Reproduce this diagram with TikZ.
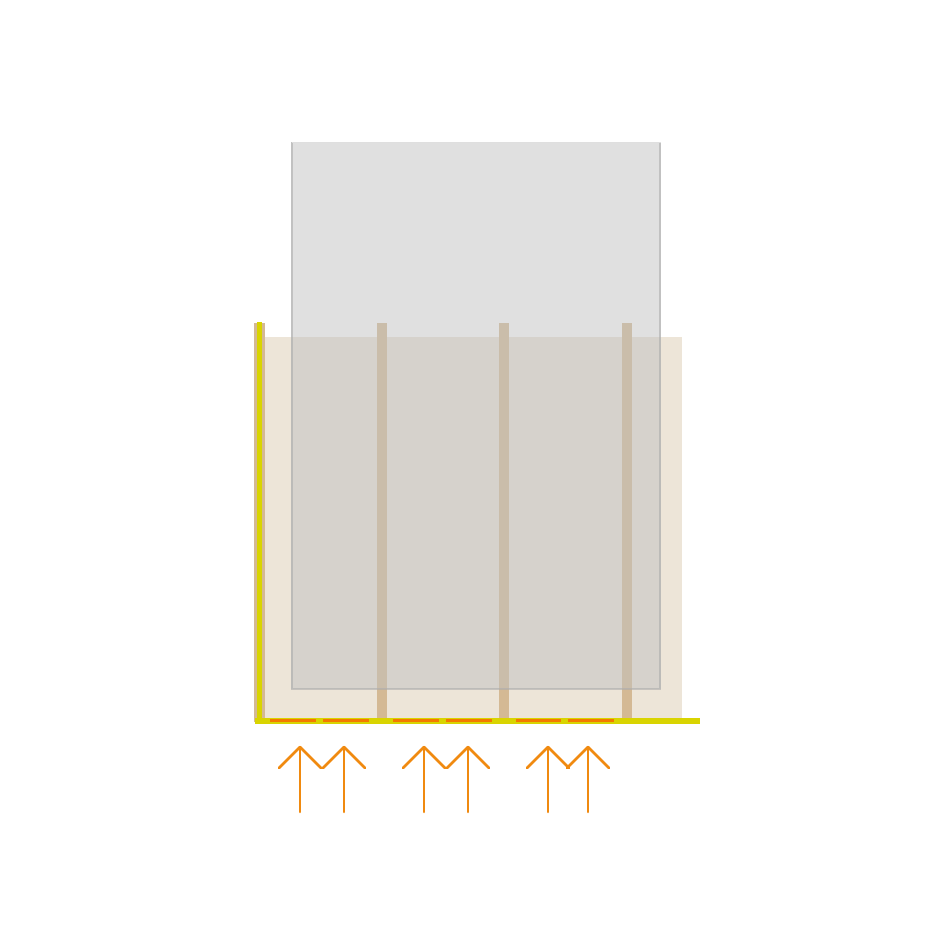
\documentclass[tikz,border=0pt]{standalone}
\definecolor{beige}{HTML}{EDE5D8}
\definecolor{tanpost}{HTML}{D4B994}
\definecolor{panelgray}{HTML}{C1C1C1}
\definecolor{railyellow}{HTML}{D9D400}
\definecolor{arroworange}{HTML}{F08A10}
\definecolor{dashorange}{HTML}{F27A00}
\begin{document}
\begin{tikzpicture}[x=1pt,y=-1pt,
  post/.style={fill=tanpost,draw=none},
  uparrow/.style={draw=arroworange,line width=2.6pt,line cap=round,line join=round},
  dashseg/.style={draw=dashorange,line width=3.8pt}]
\useasboundingbox (0,0) rectangle (950,950);
% beige background
\fill[beige] (255,337) rectangle (682,719);
% left bar
\fill[tanpost] (254,323) rectangle (265,722);
\draw[railyellow,line width=5pt] (259.5,322) -- (259.5,722);
% posts
\foreach \x in {382,504,627}{
  \fill[post] (\x-5,323) rectangle (\x+5,719);
}
% gray panel
\fill[panelgray,opacity=0.5] (291,142) rectangle (661,689);
\draw[gray!65,line width=1.8pt,opacity=0.6] (292,142) -- (292,689) -- (660,689) -- (660,142);
\draw[gray!25,line width=0.8pt] (291.5,142.5) -- (660.5,142.5);
% bottom rail
\draw[railyellow,line width=6pt] (255,721) -- (700,721);
\foreach \a/\b in {270/316,323/369,393/439,446/492,516/561,568/614}{
  \draw[dashseg] (\a,720.5) -- (\b,720.5);
}
% arrows
\foreach \x in {300,344,424,468,548,588}{
  \draw[uparrow] (\x,812) -- (\x,747);
  \draw[uparrow] (\x-21,768) -- (\x,747) -- (\x+21,768);
}
\end{tikzpicture}
\end{document}
